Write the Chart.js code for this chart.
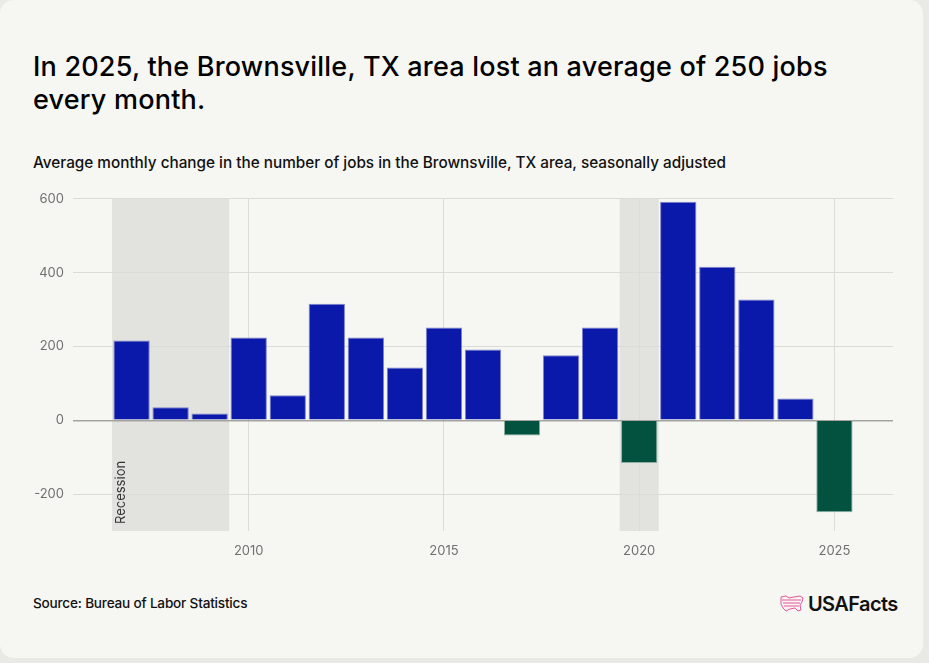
<!DOCTYPE html>
<html>
<head>
<meta charset="utf-8">
<script src="https://cdn.jsdelivr.net/npm/chart.js@4/dist/chart.umd.min.js"></script>
<style>
  html, body { margin: 0; padding: 0; }
  body { width: 929px; height: 663px; background: #e9e9e6; position: relative; overflow: hidden; font-family: Inter, "Noto Sans", sans-serif; }
  .card { position: absolute; left: 0; top: 0; width: 923px; height: 658px; background: #f6f6f2; border-radius: 14px; }
  .title { position: absolute; left: 33px; top: 50px; width: 880px; font-size: 27px; font-weight: 500; line-height: 33px; color: #000; letter-spacing: 0.2px; }
  .subtitle { position: absolute; left: 33px; top: 153px; font-size: 15.3px; font-weight: 500; color: #111; letter-spacing: 0; }
  .source { position: absolute; left: 33px; top: 595px; font-size: 13.6px; font-weight: 500; color: #111; letter-spacing: -0.2px; }
  .logo { position: absolute; left: 780px; top: 592px; display: flex; align-items: center; gap: 4px; }
  .logo span { font-size: 20px; font-weight: 600; color: #111; letter-spacing: -0.6px; }
  #wrap { position: absolute; left: 30px; top: 182px; width: 863px; height: 384px; }
</style>
</head>
<body>
<div class="card"></div>
<div class="title">In 2025, the Brownsville, TX area lost an average of 250 jobs<br>every month.</div>
<div class="subtitle">Average monthly change in the number of jobs in the Brownsville, TX area, seasonally adjusted</div>
<div id="wrap"><canvas id="jobsChart"></canvas></div>
<div class="source">Source: Bureau of Labor Statistics</div>
<div class="logo">
  <svg width="24" height="18" viewBox="0 0 24 18" fill="none" stroke="#e8559a" stroke-width="1">
    <path d="M1 2 L6 1 L9 3 L14 2 L20 1 L23 3 L22 7 L20 10 L21 15 L18 16 L15 13 L10 14 L6 16 L3 13 L1 9 Z"/>
    <path d="M2 5 L21 5 M3 8 L20 8 M4 11 L19 11"/>
  </svg>
  <span>USAFacts</span>
</div>
<script>
const years = [2007, 2008, 2009, 2010, 2011, 2012, 2013, 2014, 2015, 2016, 2017, 2018, 2019, 2020, 2021, 2022, 2023, 2024, 2025];
const jobChange = [216, 35, 18, 224, 68, 316, 224, 143, 251, 192, -41, 176, 251, -116, 592, 416, 327, 59, -249];
const yTicks = [-200, 0, 200, 400, 600];
const xTicks = [2010, 2015, 2020, 2025];
const recessions = [[2007, 2009], [2020, 2020]];

const upColor = '#0a19a9';
const downColor = '#035240';

// one empty year on each side, like the original
const labels = [years[0] - 1, ...years, years[years.length - 1] + 1];
const values = [null, ...jobChange, null];

const recessionPlugin = {
  id: 'recession',
  beforeDraw(chart) {
    const { ctx, chartArea, scales } = chart;
    const half = (scales.x.getPixelForValue(1) - scales.x.getPixelForValue(0)) / 2;
    ctx.save();
    ctx.fillStyle = '#e2e2de';
    recessions.forEach(([a, b]) => {
      const x1 = scales.x.getPixelForValue(labels.indexOf(a)) - half;
      const x2 = scales.x.getPixelForValue(labels.indexOf(b)) + half;
      ctx.fillRect(x1, chartArea.top, x2 - x1, chartArea.bottom - chartArea.top);
    });
    ctx.restore();
  },
  afterDatasetsDraw(chart) {
    const { ctx, chartArea, scales } = chart;
    const half = (scales.x.getPixelForValue(1) - scales.x.getPixelForValue(0)) / 2;
    const x = scales.x.getPixelForValue(labels.indexOf(recessions[0][0])) - half;
    ctx.save();
    ctx.translate(x + 9, chartArea.bottom - 7);
    ctx.rotate(-Math.PI / 2);
    ctx.fillStyle = '#333';
    ctx.font = '13px Inter, "Noto Sans", sans-serif';
    ctx.textBaseline = 'middle';
    ctx.fillText('Recession', 0, 0);
    ctx.restore();
  }
};

new Chart(document.getElementById('jobsChart').getContext('2d'), {
  type: 'bar',
  data: {
    labels: labels,
    datasets: [{
      label: 'Average monthly change',
      data: values,
      backgroundColor: values.map(v => v < 0 ? downColor : upColor),
      borderColor: values.map(v => v < 0 ? '#8fb0a4' : '#7d84cc'),
      borderWidth: 1,
      barPercentage: 0.93,
      categoryPercentage: 1
    }]
  },
  options: {
    responsive: true,
    maintainAspectRatio: false,
    animation: false,
    layout: { padding: { top: 9, right: 0, left: 0, bottom: 0 } },
    plugins: { legend: { display: false }, tooltip: { enabled: false } },
    scales: {
      x: {
        offset: true,
        afterFit(scale) { scale.height = 35; },
        ticks: {
          color: '#707070',
          font: { size: 13, family: 'Inter, "Noto Sans", sans-serif' },
          padding: 12,
          maxRotation: 0,
          autoSkip: false,
          callback: (v, i) => xTicks.includes(labels[i]) ? String(labels[i]) : ''
        },
        grid: {
          offset: false,
          color: ctx => ctx.tick && xTicks.includes(labels[ctx.index]) ? '#dcdcd7' : 'rgba(0,0,0,0)',
          drawTicks: false
        },
        border: { display: false }
      },
      y: {
        min: -300,
        max: 600,
        afterBuildTicks(scale) { scale.ticks = yTicks.map(v => ({ value: v })); },
        afterFit(scale) { scale.width = 43; },
        ticks: {
          color: '#707070',
          font: { size: 13, family: 'Inter, "Noto Sans", sans-serif' },
          padding: 9
        },
        grid: {
          color: ctx => ctx.tick && ctx.tick.value === 0 ? '#a3a3a0' : '#dcdcd7',
          lineWidth: ctx => ctx.tick && ctx.tick.value === 0 ? 1.5 : 1,
          drawTicks: false
        },
        border: { display: false }
      }
    }
  },
  plugins: [recessionPlugin]
});
</script>
</body>
</html>
